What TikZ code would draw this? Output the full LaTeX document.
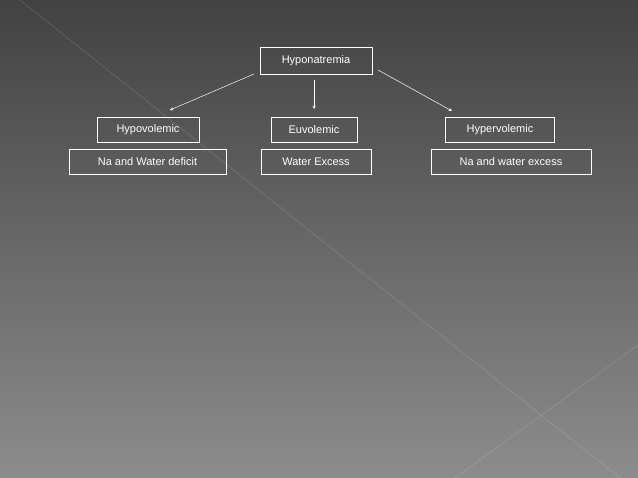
\documentclass[tikz,border=0pt]{standalone}
\usepackage{fontspec}
\setmainfont{Liberation Sans}
\begin{document}
\begin{tikzpicture}[x=1pt,y=-1pt,
  box/.style={draw=white,line width=0.6pt,text=white,font=\fontsize{11}{13}\selectfont,inner sep=0pt,minimum height=25pt},
  arr/.style={white,line width=0.5pt,-stealth}]
\shade[top color={rgb,255:red,66;green,66;blue,66},bottom color={rgb,255:red,140;green,140;blue,140}] (0,0) rectangle (638,478);
\useasboundingbox (0,0) rectangle (638,478);
\draw[white,opacity=0.15,line width=0.6pt] (20,0) -- (620,478);
\draw[white,opacity=0.15,line width=0.6pt] (638,345) -- (455,478);
\node[box,minimum width=112pt,minimum height=27pt] (hy) at (316,61) {Hyponatremia};
\node[box,minimum width=102pt] (hpo) at (148,130) {Hypovolemic};
\node[box,minimum width=86pt] (eu) at (314,130) {Euvolemic};
\node[box,minimum width=109pt] (hpe) at (500,130) {Hypervolemic};
\node[box,minimum width=157pt] (d1) at (147.5,161.5) {Na and Water deficit};
\node[box,minimum width=110pt] (d2) at (316,161.5) {Water Excess};
\node[box,minimum width=160pt] (d3) at (511,161.5) {Na and water excess};
\coordinate (a1) at (254,74); \coordinate (b1) at (170,110);
\coordinate (a2) at (314,80); \coordinate (b2) at (314,109);
\coordinate (a3) at (378,70); \coordinate (b3) at (452,111);
\draw[arr] (a1) -- (b1);
\draw[arr] (a2) -- (b2);
\draw[arr] (a3) -- (b3);
\end{tikzpicture}
\end{document}
